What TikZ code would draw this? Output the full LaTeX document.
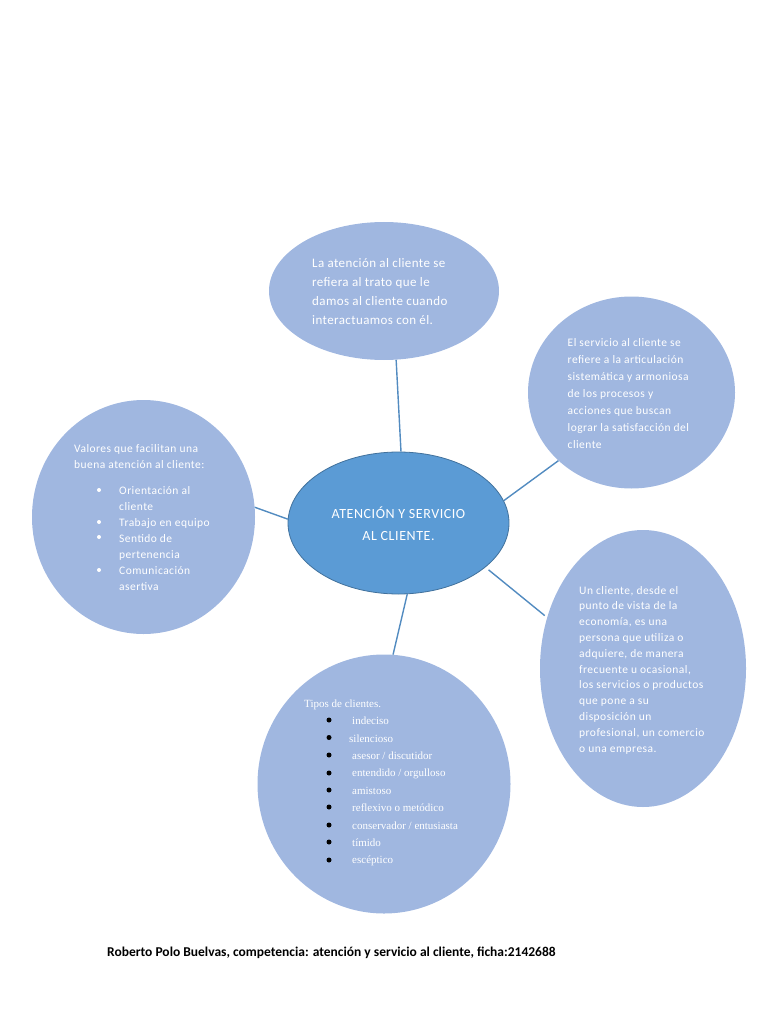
\documentclass[tikz,border=0pt]{standalone}
\usepackage{fontspec}
\setmainfont{Carlito}
\newfontfamily\serifface{Liberation Serif}
\newfontfamily\abierta[LetterSpace=4]{Carlito}
\newfontfamily\media[LetterSpace=3]{Carlito}
\usetikzlibrary{shapes.geometric}
\definecolor{globo}{HTML}{A0B7E0}
\definecolor{centro}{HTML}{5B9BD5}
\definecolor{bordecentro}{HTML}{41719C}
\tikzset{
	globo/.style={ellipse, fill=globo, inner sep=0pt},
	linea/.style={draw=centro!90!black, line width=1.4pt},
	texto/.style={text=white, align=left, anchor=west, inner sep=0pt},
	punto/.style={circle, inner sep=0pt, minimum size=#1},
}
\begin{document}
\begin{tikzpicture}[x=1pt, y=-1pt, line join=round]
	\useasboundingbox (0,0) rectangle (768,1024);
	% globos
	\node[globo, minimum width=230pt, minimum height=138pt] (arriba) at (384,291) {};
	\node[globo, minimum width=207pt, minimum height=192pt] (servicio) at (631.5,392.5) {};
	\node[globo, minimum width=206pt, minimum height=277pt] (cliente) at (643,668.5) {};
	\node[globo, minimum width=253pt, minimum height=259pt] (tipos) at (384,784) {};
	\node[globo, minimum width=223pt, minimum height=234pt] (valores) at (143.5,517) {};
	\node[ellipse, fill=centro, draw=bordecentro, line width=.8pt, inner sep=0pt, minimum width=221pt, minimum height=142pt] (central) at (398.5,523) {};
	% lineas
	\draw[linea] (arriba.-80) -- (central.88);
	\draw[linea] (central.12) -- (servicio.223);
	\draw[linea, shorten <=4pt, shorten >=3pt] (central.-27) -- (cliente.152);
	\draw[linea] (central.-83) -- (tipos.86);
	\draw[linea] (central.178) -- (valores.5);
	% textos
	\node[text=white, align=center, font=\fontsize{14}{22}\abierta, inner sep=0pt] (titulo) at (398.5,523.5) {ATENCIÓN Y SERVICIO\\AL CLIENTE.};
	\node[texto, font=\fontsize{13}{18.7}\media] (textoarriba) at (312,291.5) {La atención al cliente se\\refiera al trato que le\\damos al cliente cuando\\interactuamos con él.};
	\node[texto, font=\fontsize{11.5}{17}\abierta] (textoservicio) at (567.5,394) {El servicio al cliente se\\refiere a la articulación\\sistemática y armoniosa\\de los procesos y\\acciones que buscan\\lograr la satisfacción del\\cliente};
	\node[texto, font=\fontsize{11.5}{15.8}\abierta] (textocliente) at (579,670) {Un cliente, desde el\\punto de vista de la\\economía, es una\\persona que utiliza o\\adquiere, de manera\\frecuente u ocasional,\\los servicios o productos\\que pone a su\\disposición un\\profesional, un comercio\\o una empresa.};
	\node[texto, font=\fontsize{11.5}{16}\abierta] (textovalores) at (74,456.5) {Valores que facilitan una\\buena atención al cliente:};
	\node[texto, font=\fontsize{11.5}{16}\abierta] (listavalores) at (119,539) {Orientación al\\cliente\\Trabajo en equipo\\Sentido de\\pertenencia\\Comunicación\\asertiva};
	\foreach \y in {490,522,537,570}
		\node[punto=4pt, fill=white] (v\y) at (99,\y) {};
	\node[texto, font=\fontsize{11}{12}\serifface] (textotipos) at (304,705) {Tipos de clientes.};
	\foreach \y/\x/\nombre in {720/352/indeciso, 737.5/349/silencioso, 755/352/{asesor / discutidor}, 773/352/{entendido / orgulloso}, 790/352/amistoso, 807/352/reflexivo o metódico, 825/352/{conservador / entusiasta}, 842/352/tímido, 860/352/escéptico}
	{
		\node[punto=5pt, fill=black] (b\y) at (329,\y) {};
		\node[texto, font=\fontsize{11}{12}\serifface] (t\y) at (\x,\y+1) {\nombre};
	}
	\node[anchor=west, inner sep=0pt, font=\fontsize{13.5}{16}\selectfont\bfseries] (firma) at (107,953) {Roberto Polo Buelvas, competencia: atención y servicio al cliente, ficha:2142688};
\end{tikzpicture}
\end{document}
